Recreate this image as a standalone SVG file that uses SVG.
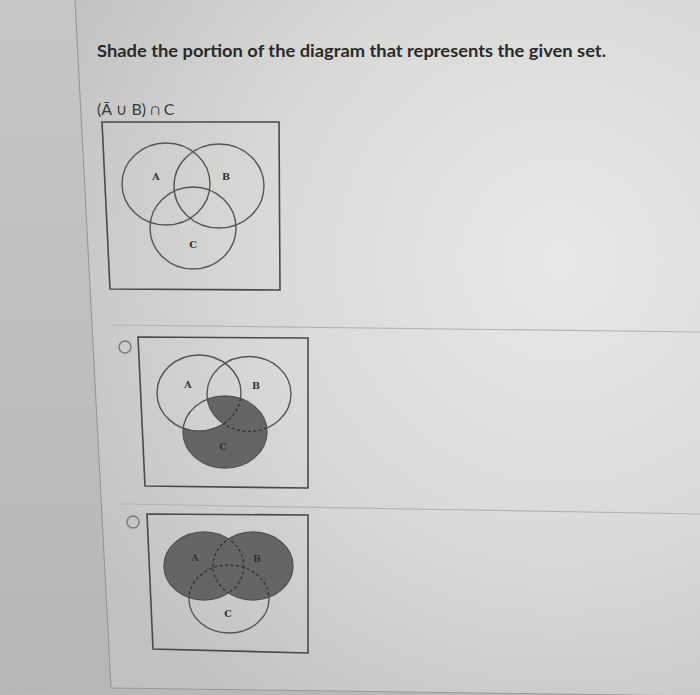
<svg xmlns="http://www.w3.org/2000/svg" width="700" height="695" viewBox="0 0 700 695">
<defs>
<radialGradient id="panelG" cx="560" cy="260" r="560" gradientUnits="userSpaceOnUse">
<stop offset="0" stop-color="#e8e8e7"/>
<stop offset="0.55" stop-color="#d8d8d7"/>
<stop offset="1" stop-color="#c1c1c1"/>
</radialGradient>
<linearGradient id="leftG" x1="0" y1="0" x2="0" y2="695" gradientUnits="userSpaceOnUse">
<stop offset="0" stop-color="#c6c6c6"/>
<stop offset="1" stop-color="#b6b6b6"/>
</linearGradient>
<style>
.box{fill:none;stroke:#4a4a4a;stroke-width:1.6}
.ring{fill:none;stroke:#555;stroke-width:1.4}
.dash{fill:none;stroke:#2e2e2e;stroke-width:1.2;stroke-dasharray:3 2.5}
.shade{fill:#656565}
.lab{font-family:"DejaVu Serif",serif;font-weight:bold;font-size:9.5px;fill:#333;text-anchor:middle}
.radio{fill:none;stroke:#7a7a7a;stroke-width:1.4}
.sep{stroke:#b4b4b4;stroke-width:1.2}
</style>
<clipPath id="c2C"><ellipse cx="225" cy="432" rx="42" ry="36"/></clipPath>
<mask id="m2Shade" maskUnits="userSpaceOnUse" x="0" y="0" width="700" height="695">
<rect width="700" height="695" fill="white"/>
<ellipse cx="199" cy="393" rx="42" ry="38" fill="black"/>
<ellipse cx="249" cy="394" rx="42" ry="37.5" fill="white"/>
</mask>
<mask id="m2aDash" maskUnits="userSpaceOnUse" x="0" y="0" width="700" height="695">
<rect width="700" height="695" fill="black"/>
<g clip-path="url(#c2C)"><ellipse cx="249" cy="394" rx="42" ry="37.5" fill="white"/></g>
</mask>
<mask id="m2aSolid" maskUnits="userSpaceOnUse" x="0" y="0" width="700" height="695">
<rect width="700" height="695" fill="white"/>
<g clip-path="url(#c2C)"><ellipse cx="249" cy="394" rx="42" ry="37.5" fill="black"/></g>
</mask>
<mask id="m2bDash" maskUnits="userSpaceOnUse" x="0" y="0" width="700" height="695">
<rect width="700" height="695" fill="black"/>
<ellipse cx="225" cy="432" rx="42" ry="36" fill="white"/>
<ellipse cx="199" cy="393" rx="42" ry="38" fill="black"/>
</mask>
<mask id="m2bSolid" maskUnits="userSpaceOnUse" x="0" y="0" width="700" height="695">
<rect width="700" height="695" fill="white"/>
<ellipse cx="225" cy="432" rx="42" ry="36" fill="black"/>
<ellipse cx="199" cy="393" rx="42" ry="38" fill="white"/>
</mask>
<mask id="m3aDash" maskUnits="userSpaceOnUse" x="0" y="0" width="700" height="695">
<rect width="700" height="695" fill="black"/>
<ellipse cx="253" cy="566" rx="40" ry="34" fill="white"/>
</mask>
<mask id="m3aSolid" maskUnits="userSpaceOnUse" x="0" y="0" width="700" height="695">
<rect width="700" height="695" fill="white"/>
<ellipse cx="253" cy="566" rx="40" ry="34" fill="black"/>
</mask>
<mask id="m3bDash" maskUnits="userSpaceOnUse" x="0" y="0" width="700" height="695">
<rect width="700" height="695" fill="black"/>
<ellipse cx="204" cy="566" rx="40" ry="34" fill="white"/>
</mask>
<mask id="m3bSolid" maskUnits="userSpaceOnUse" x="0" y="0" width="700" height="695">
<rect width="700" height="695" fill="white"/>
<ellipse cx="204" cy="566" rx="40" ry="34" fill="black"/>
</mask>
<mask id="m3cDash" maskUnits="userSpaceOnUse" x="0" y="0" width="700" height="695">
<rect width="700" height="695" fill="black"/>
<ellipse cx="204" cy="566" rx="40" ry="34" fill="white"/>
<ellipse cx="253" cy="566" rx="40" ry="34" fill="white"/>
</mask>
<mask id="m3cSolid" maskUnits="userSpaceOnUse" x="0" y="0" width="700" height="695">
<rect width="700" height="695" fill="white"/>
<ellipse cx="204" cy="566" rx="40" ry="34" fill="black"/>
<ellipse cx="253" cy="566" rx="40" ry="34" fill="black"/>
</mask>
</defs>

<g id="background">
<rect width="700" height="695" fill="url(#panelG)"/>
<polygon points="0,0 75,0 111,688 0,695" fill="url(#leftG)"/>
<line x1="75" y1="0" x2="111" y2="688" stroke="#939393" stroke-width="1"/>
<polygon points="111,688 700,696 700,695 0,695" fill="#b8b8b8"/>
<line x1="111" y1="688" x2="700" y2="696" stroke="#999" stroke-width="1"/>
</g>

<g id="title">
<text x="97" y="57" font-family="Lato, 'Open Sans', sans-serif" font-weight="bold" font-size="17.5" fill="#2a2a2a" textLength="509" lengthAdjust="spacingAndGlyphs">Shade the portion of the diagram that represents the given set.</text>
<text x="97" y="115" font-family="Lato, 'DejaVu Sans', sans-serif" font-size="16" fill="#3a3a3a">(Ā ∪ B) ∩ C</text>
</g>

<g id="separators">
<line class="sep" x1="112" y1="325" x2="700" y2="332"/>
<line class="sep" x1="120" y1="504" x2="700" y2="514"/>
</g>

<g id="diagram1">
<polygon class="box" points="102,122 279,122 280,290 110,289"/>
<ellipse class="ring" cx="166" cy="184" rx="44" ry="41"/>
<ellipse class="ring" cx="219" cy="186" rx="45" ry="42"/>
<ellipse class="ring" cx="193" cy="228" rx="43" ry="41"/>
<text class="lab" x="156" y="180">A</text>
<text class="lab" x="226" y="180">B</text>
<text class="lab" x="193" y="248">C</text>
</g>

<g id="option1">
<circle class="radio" cx="125" cy="347" r="6"/>
<polygon class="box" points="138,337 308,338 308,488 145,486"/>
<ellipse class="shade" cx="225" cy="432" rx="42" ry="36" mask="url(#m2Shade)"/>
<ellipse class="ring" cx="199" cy="393" rx="42" ry="38" mask="url(#m2aSolid)"/>
<ellipse class="dash" cx="199" cy="393" rx="42" ry="38" mask="url(#m2aDash)"/>
<ellipse class="ring" cx="249" cy="394" rx="42" ry="37.5" mask="url(#m2bSolid)"/>
<ellipse class="dash" cx="249" cy="394" rx="42" ry="37.5" mask="url(#m2bDash)"/>
<ellipse class="ring" cx="225" cy="432" rx="42" ry="36"/>
<text class="lab" x="188" y="388">A</text>
<text class="lab" x="256" y="389">B</text>
<text class="lab" x="223" y="450">C</text>
</g>

<g id="option2">
<circle class="radio" cx="133" cy="522" r="6"/>
<polygon class="box" points="147,514 308,515 308,653 153,649"/>
<ellipse class="shade" cx="204" cy="566" rx="40" ry="34"/>
<ellipse class="shade" cx="253" cy="566" rx="40" ry="34"/>
<ellipse class="ring" cx="204" cy="566" rx="40" ry="34" mask="url(#m3aSolid)"/>
<ellipse class="dash" cx="204" cy="566" rx="40" ry="34" mask="url(#m3aDash)"/>
<ellipse class="ring" cx="253" cy="566" rx="40" ry="34" mask="url(#m3bSolid)"/>
<ellipse class="dash" cx="253" cy="566" rx="40" ry="34" mask="url(#m3bDash)"/>
<ellipse class="ring" cx="229" cy="599" rx="40" ry="34" mask="url(#m3cSolid)"/>
<ellipse class="dash" cx="229" cy="599" rx="40" ry="34" mask="url(#m3cDash)"/>
<text class="lab" x="195" y="561">A</text>
<text class="lab" x="257" y="562">B</text>
<text class="lab" x="228" y="617">C</text>
</g>
</svg>
